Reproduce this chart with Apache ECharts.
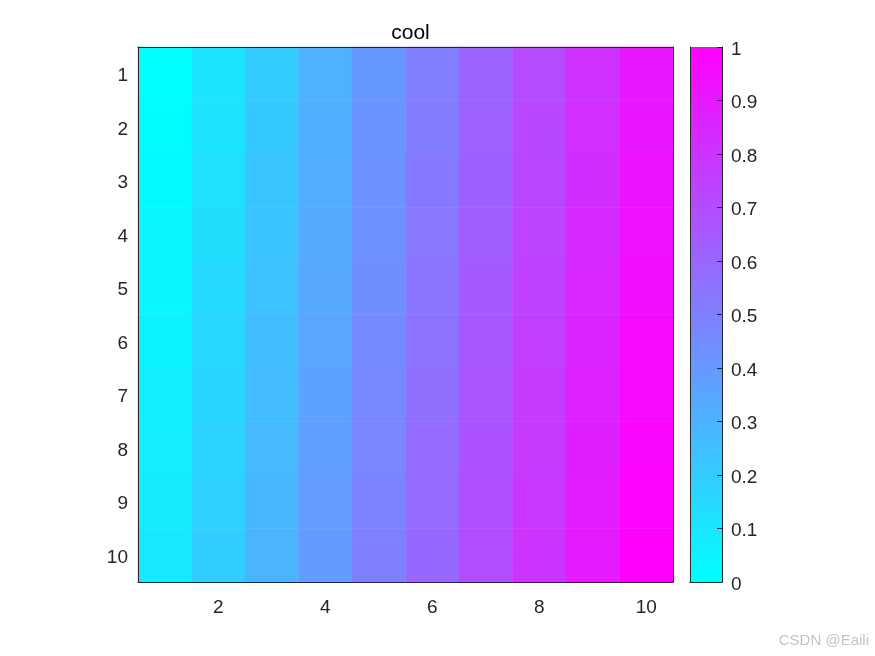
<!DOCTYPE html>
<html>
<head>
<meta charset="utf-8">
<script src="https://cdn.jsdelivr.net/npm/echarts@6/dist/echarts.min.js"></script>
<style>
html,body{margin:0;padding:0;background:#fff;}
#chart{width:875px;height:656px;}
</style>
</head>
<body>
<div id="chart"></div>
<script>
// Categories (image columns / rows)
var colLabels = ['1','2','3','4','5','6','7','8','9','10'];
var rowLabels = ['1','2','3','4','5','6','7','8','9','10'];
// Colorbar tick range
var cbMin = 0, cbMax = 1, cbStep = 0.1;
// Matrix values, one array per row (row 1 at top)
var row1  = [0.000, 0.101, 0.202, 0.303, 0.404, 0.505, 0.606, 0.707, 0.808, 0.909];
var row2  = [0.010, 0.111, 0.212, 0.313, 0.414, 0.515, 0.616, 0.717, 0.818, 0.919];
var row3  = [0.020, 0.121, 0.222, 0.323, 0.424, 0.525, 0.626, 0.727, 0.828, 0.929];
var row4  = [0.030, 0.131, 0.232, 0.333, 0.434, 0.535, 0.636, 0.737, 0.838, 0.939];
var row5  = [0.040, 0.141, 0.242, 0.343, 0.444, 0.545, 0.646, 0.747, 0.848, 0.949];
var row6  = [0.051, 0.152, 0.253, 0.354, 0.455, 0.556, 0.657, 0.758, 0.859, 0.960];
var row7  = [0.061, 0.162, 0.263, 0.364, 0.465, 0.566, 0.667, 0.768, 0.869, 0.970];
var row8  = [0.071, 0.172, 0.273, 0.374, 0.475, 0.576, 0.677, 0.778, 0.879, 0.980];
var row9  = [0.081, 0.182, 0.283, 0.384, 0.485, 0.586, 0.687, 0.788, 0.889, 0.990];
var row10 = [0.091, 0.192, 0.293, 0.394, 0.495, 0.596, 0.697, 0.798, 0.899, 1.000];
var rows = [row1,row2,row3,row4,row5,row6,row7,row8,row9,row10];

var heatData = [];
rows.forEach(function(r, yi){ r.forEach(function(v, xi){ heatData.push([xi, yi, v]); }); });

var AX = '#262626';
var FONT = 'Liberation Sans, Arial, Helvetica, sans-serif';
var evenIdx = function(i){ return i % 2 === 1; };

var chart = echarts.init(document.getElementById('chart'), null, {renderer:'canvas'});
chart.setOption({
  animation: false,
  backgroundColor: '#ffffff',
  title: {
    text: 'cool', left: 405.5, textAlign: 'center', top: 18,
    textStyle: {fontFamily: FONT, fontSize: 21, fontWeight: 'normal', color: '#000'}
  },
  graphic: [{
    type: 'text', right: 6, bottom: 8,
    style: {text: 'CSDN @Eaili', fill: '#c4c4c4', font: '15px ' + FONT}
  }],
  grid: [
    {left: 138, top: 47, width: 535, height: 535},
    {left: 690, top: 47, width: 32, height: 535}
  ],
  xAxis: [
    {gridIndex: 0, type: 'category', data: colLabels, position: 'bottom', z: 10,
     axisLine: {lineStyle: {color: AX, width: 1}},
     axisTick: {inside: true, length: 5, alignWithLabel: true, interval: evenIdx, lineStyle: {color: AX}},
     axisLabel: {interval: evenIdx, color: AX, fontSize: 19, fontFamily: FONT, margin: 16},
     splitLine: {show: false}},
    {gridIndex: 0, type: 'category', data: colLabels, position: 'top', z: 10,
     axisLine: {lineStyle: {color: AX, width: 1}},
     axisTick: {inside: true, length: 5, alignWithLabel: true, interval: evenIdx, lineStyle: {color: AX}},
     axisLabel: {show: false}, splitLine: {show: false}},
    {gridIndex: 1, type: 'category', data: [''], position: 'bottom', z: 10,
     axisLine: {lineStyle: {color: AX, width: 1}}, axisTick: {show: false}, axisLabel: {show: false}},
    {gridIndex: 1, type: 'category', data: [''], position: 'top', z: 10,
     axisLine: {lineStyle: {color: AX, width: 1}}, axisTick: {show: false}, axisLabel: {show: false}}
  ],
  yAxis: [
    {gridIndex: 0, type: 'category', data: rowLabels, inverse: true, position: 'left', z: 10,
     axisLine: {lineStyle: {color: AX, width: 1}},
     axisTick: {inside: true, length: 5, alignWithLabel: true, interval: 0, lineStyle: {color: AX}},
     axisLabel: {interval: 0, color: AX, fontSize: 19, fontFamily: FONT, margin: 10,
                 verticalAlign: 'top', lineHeight: 5},
     splitLine: {show: false}},
    {gridIndex: 0, type: 'category', data: rowLabels, inverse: true, position: 'right', z: 10,
     axisLine: {lineStyle: {color: AX, width: 1}},
     axisTick: {inside: true, length: 5, alignWithLabel: true, interval: 0, lineStyle: {color: AX}},
     axisLabel: {show: false}, splitLine: {show: false}},
    {gridIndex: 1, type: 'value', min: cbMin, max: cbMax, interval: cbStep, position: 'right', z: 10,
     axisLine: {show: true, lineStyle: {color: AX, width: 1}},
     axisTick: {show: true, inside: true, length: 5, lineStyle: {color: AX}},
     axisLabel: {color: AX, fontSize: 19, fontFamily: FONT, margin: 9,
                 verticalAlign: 'top', lineHeight: 5},
     splitLine: {show: false}},
    {gridIndex: 1, type: 'value', min: cbMin, max: cbMax, position: 'left', z: 10,
     axisLine: {show: true, lineStyle: {color: AX, width: 1}},
     axisTick: {show: false}, axisLabel: {show: false}, splitLine: {show: false}}
  ],
  visualMap: {
    show: false, type: 'continuous', seriesIndex: 0, dimension: 2,
    min: cbMin, max: cbMax, inRange: {color: ['#00FFFF', '#FF00FF']}
  },
  series: [
    {type: 'heatmap', xAxisIndex: 0, yAxisIndex: 0, data: heatData,
     itemStyle: {borderWidth: 0}, emphasis: {disabled: true}, silent: true},
    {type: 'bar', xAxisIndex: 2, yAxisIndex: 2, data: [cbMax], barWidth: '100%', silent: true,
     itemStyle: {color: {type: 'linear', x: 0, y: 0, x2: 0, y2: 1,
       colorStops: [{offset: 0, color: '#FF00FF'}, {offset: 1, color: '#00FFFF'}]}}}
  ]
});
</script>
</body>
</html>
